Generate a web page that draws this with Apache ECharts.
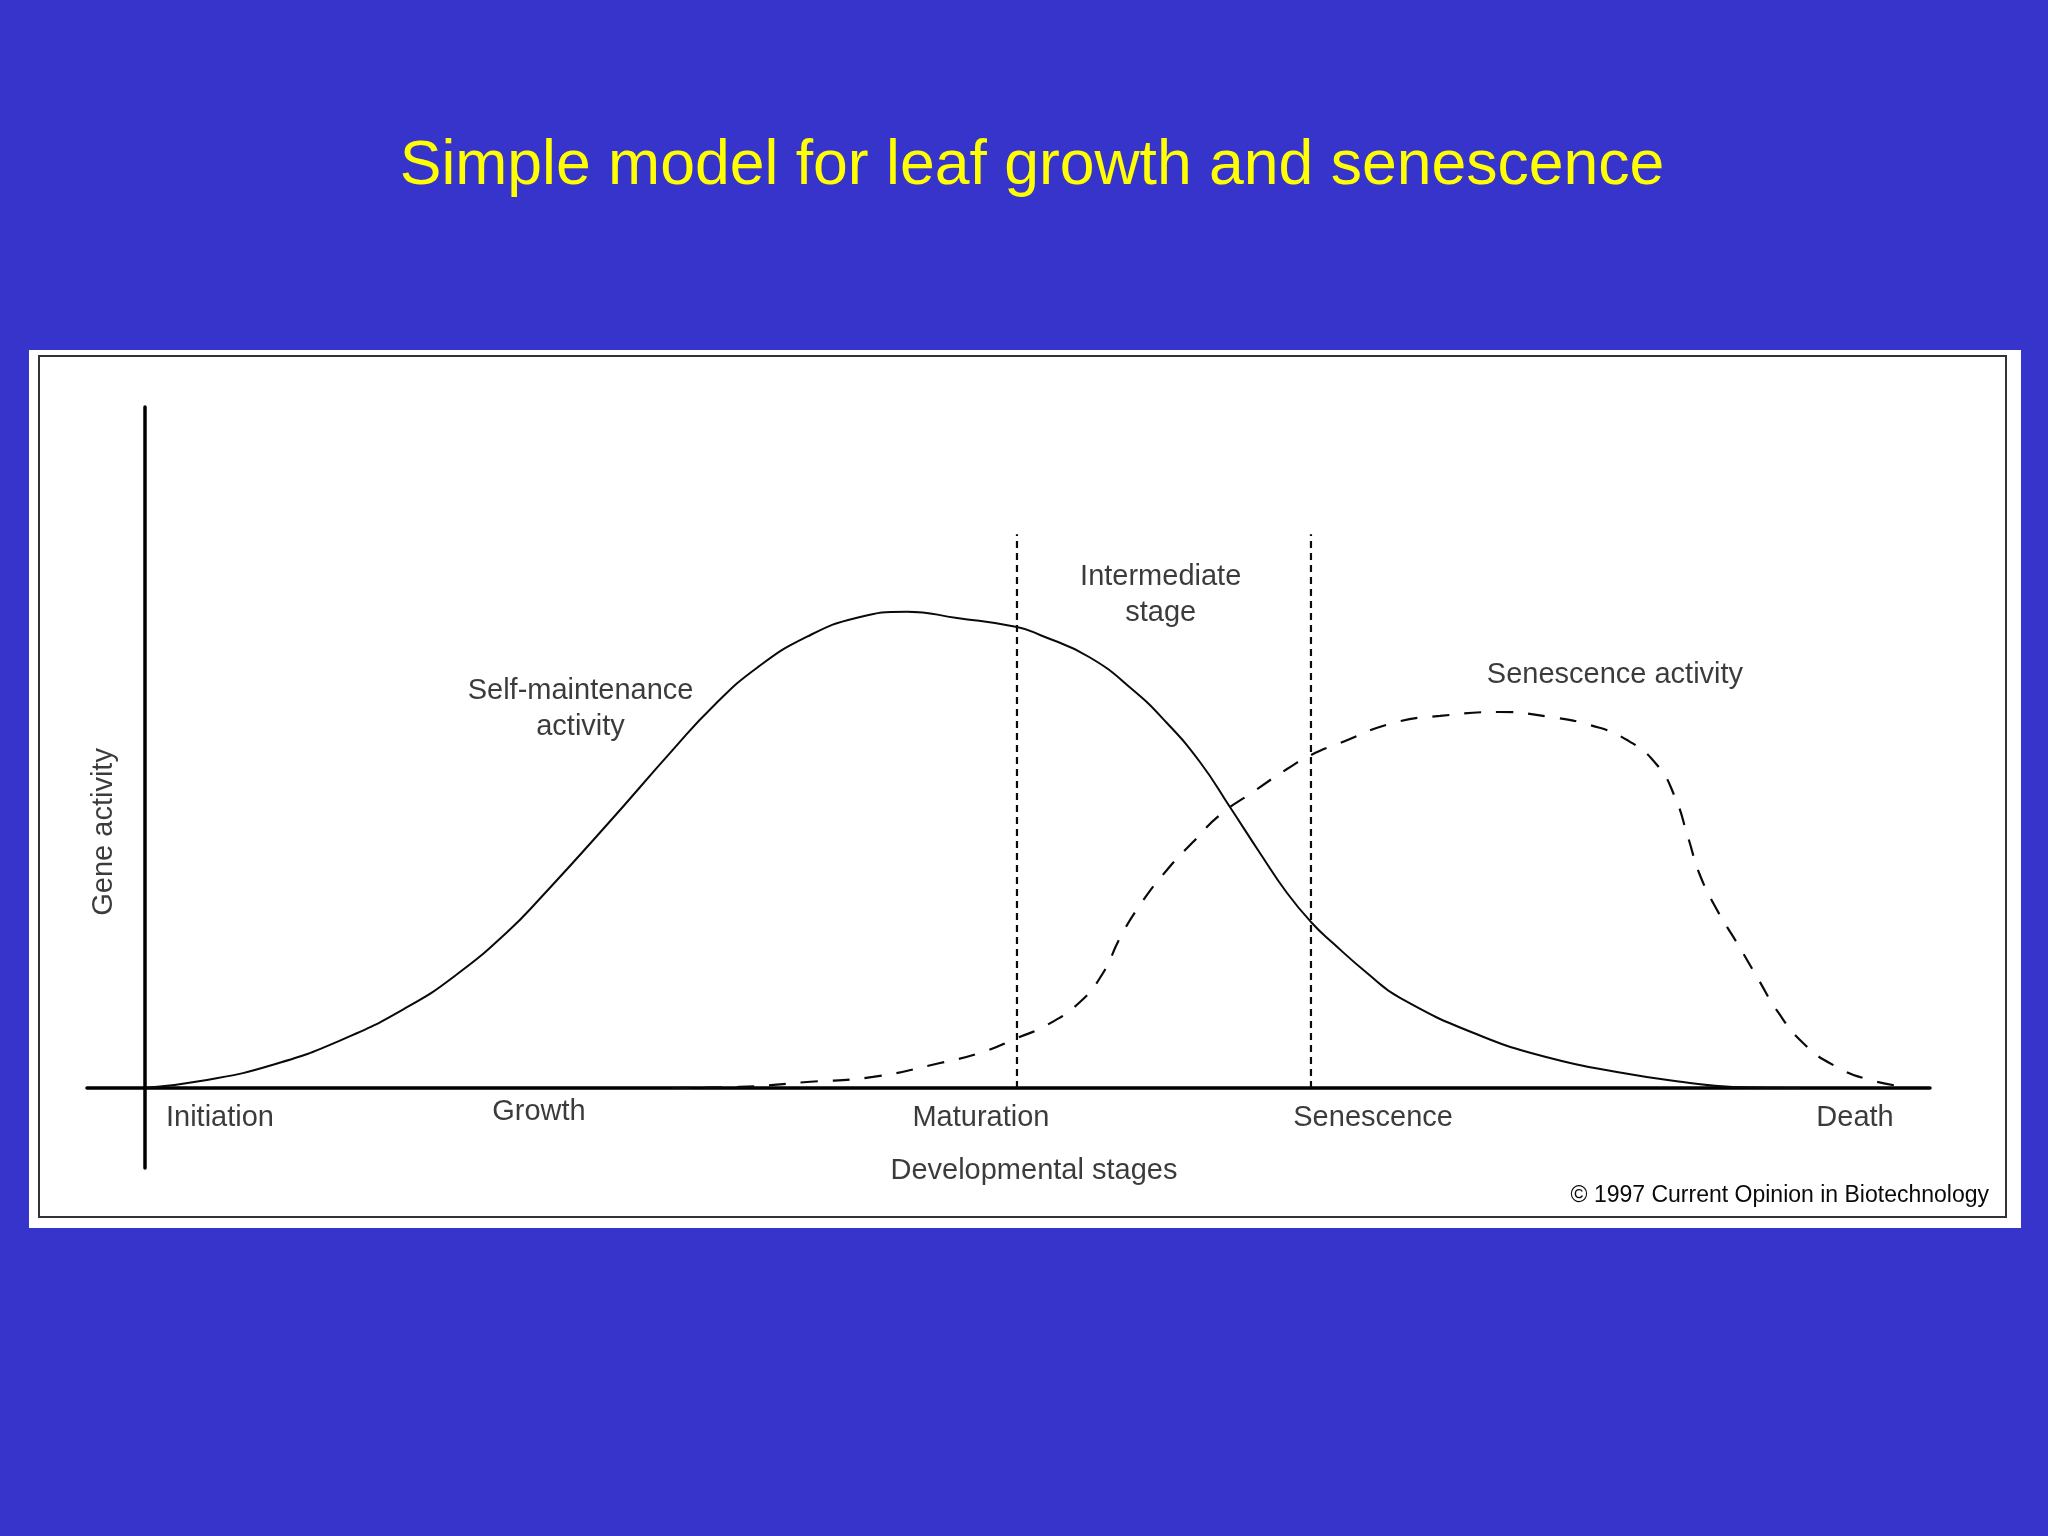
<!DOCTYPE html>
<html>
<head>
<meta charset="utf-8">
<style>
  html, body { margin: 0; padding: 0; background: #3734CC; }
  #chart { width: 2048px; height: 1536px; }
</style>
<script src="https://cdn.jsdelivr.net/npm/echarts@6/dist/echarts.min.js"></script>
</head>
<body>
<div id="chart"></div>
<script>
// ---- data (x: developmental time, y: gene activity; arbitrary units) ----
const selfMaintenance = [
  [0, 0], [3.47, 1.17], [7.17, 3.41], [10.92, 6.95], [14.68, 11.87], [17.48, 16.7],
  [20.28, 22.88], [22.13, 27.83], [25.88, 38.65], [29.58, 49.69], [31.82, 56.03],
  [34.29, 61.72], [37.09, 66.27], [39.89, 69.06], [42.69, 69.94], [45.49, 69.02],
  [48.85, 67.69], [50.14, 66.52], [52.89, 63.29], [55.35, 58.44], [57.25, 53.6],
  [59.1, 47.87], [60.78, 41.26], [62.46, 34.51], [63.98, 28.63], [65.32, 24.38],
  [66.55, 21.29], [68.46, 16.89], [70.31, 13.22], [74.85, 7.64], [78.71, 4.41],
  [82.46, 2.35], [86.16, 0.88], [88.96, 0.15], [92.72, 0]
];
const senescenceActivity = [
  [29.58, 0], [33.33, 0.15], [37.09, 0.88], [40.78, 1.62], [44.54, 3.67], [46.95, 5.29],
  [48.85, 7.34], [50.53, 9.25], [52.38, 12.63], [53.67, 16.89], [54.62, 22.03],
  [55.74, 26.87], [57.25, 32.01], [58.71, 36.12], [60.22, 40.09], [62.07, 43.47],
  [63.98, 46.84], [65.32, 48.9], [66.95, 50.66], [69.92, 53.6], [72.55, 54.63],
  [75.91, 55.21], [78.71, 54.48], [80.95, 53.3], [83.03, 51.1], [84.71, 47.43],
  [85.71, 42.73], [86.44, 36.86], [87.11, 31.28], [88.07, 26.14], [89.19, 21.29],
  [90.31, 16.3], [91.48, 11.16], [92.89, 6.61], [94.57, 3.38], [96.64, 1.17], [98.71, 0.15]
];
const stageBoundaries = [48.85, 65.32];
const boundaryTop = 81.3;
const stageNames = ['Initiation', 'Growth', 'Maturation', 'Senescence', 'Death'];
const stageX = [4.2, 22.07, 46.83, 68.8, 95.8];
const stageY = [-4.35, -3.6, -4.35, -4.35, -4.35];
const annotations = [
  { text: 'Self-maintenance\nactivity', x: 24.4, y: 55.6, rotate: 0 },
  { text: 'Intermediate\nstage', x: 56.9, y: 72.4, rotate: 0 },
  { text: 'Senescence activity', x: 82.35, y: 60.6, rotate: 0 },
  { text: 'Developmental stages', x: 49.8, y: -12.2, rotate: 0 },
  { text: 'Gene activity', x: -2.3, y: 37.6, rotate: 90 }
];
const titleText = 'Simple model for leaf growth and senescence';
const creditText = '\u00A9 1997 Current Opinion in Biotechnology';

// ---- chart ----
const FONT = '"Liberation Sans", Arial, Helvetica, sans-serif';
const INK = '#0a0a0a';
const chart = echarts.init(document.getElementById('chart'));

const labelPoints = stageNames.map((n, i) => ({ value: [stageX[i], stageY[i]], name: n, rot: 0 }))
  .concat(annotations.map(a => ({ value: [a.x, a.y], name: a.text, rot: a.rotate })));

const series = [
  {
    type: 'line', name: 'Self-maintenance activity', data: selfMaintenance,
    smooth: 0.5, symbol: 'none', silent: true,
    lineStyle: { color: INK, width: 2 }, z: 5
  },
  {
    type: 'line', name: 'Senescence activity', data: senescenceActivity,
    smooth: 0.5, symbol: 'none', silent: true,
    lineStyle: { color: INK, width: 2.2, type: [17, 15] }, z: 5
  }
];
stageBoundaries.forEach((bx, i) => {
  series.push({
    type: 'line', name: 'boundary' + i, data: [[bx, 0], [bx, boundaryTop]],
    symbol: 'none', silent: true,
    lineStyle: { color: INK, width: 2.2, type: [7, 5] }, z: 4
  });
});
series.push({
  type: 'scatter', name: 'labels', clip: false, silent: true,
  symbol: 'circle', symbolSize: 1,
  itemStyle: { color: 'rgba(0,0,0,0)' },
  data: labelPoints.map(p => ({
    value: p.value,
    label: {
      show: true, position: 'inside', formatter: p.name, rotate: p.rot,
      color: INK, fontSize: 29, fontFamily: FONT, lineHeight: 36, align: 'center'
    }
  })),
  z: 6
});

chart.setOption({
  backgroundColor: '#3734CC',
  animation: false,
  graphic: [
    { type: 'rect', z: -10, shape: { x: 29, y: 350, width: 1992, height: 878 }, style: { fill: '#ffffff' } },
    { type: 'rect', z: -9, shape: { x: 39, y: 356, width: 1967, height: 861 }, style: { fill: '#ffffff', stroke: '#333333', lineWidth: 2 } },
    { type: 'text', z: 10, x: 1032, y: 167, style: { text: titleText, fill: '#FFFF00', font: '62.5px ' + FONT, textAlign: 'center', textVerticalAlign: 'middle' } },
    { type: 'text', z: 10, x: 1989, y: 1196, style: { text: creditText, fill: INK, font: '23px ' + FONT, textAlign: 'right', textVerticalAlign: 'middle' } }
  ],
  grid: { left: 87, right: 118, top: 407, bottom: 368, containLabel: false },
  xAxis: {
    type: 'value', min: -3.25, max: 100,
    axisLine: { show: true, onZero: true, lineStyle: { color: '#000', width: 3.5 } },
    axisTick: { show: false }, axisLabel: { show: false }, splitLine: { show: false }
  },
  yAxis: {
    type: 'value', min: -11.75, max: 100,
    axisLine: { show: true, onZero: true, lineStyle: { color: '#000', width: 3.5 } },
    axisTick: { show: false }, axisLabel: { show: false }, splitLine: { show: false }
  },
  series: series
});
</script>
</body>
</html>
